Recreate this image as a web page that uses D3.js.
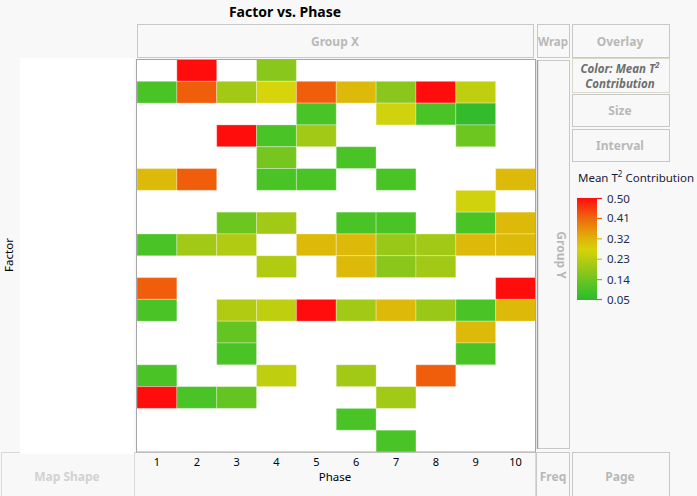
<!DOCTYPE html>
<html><head><meta charset="utf-8">
<script src="https://cdn.jsdelivr.net/npm/d3@7"></script>
<style>
html,body{margin:0;padding:0;background:#f8f8f8;}
svg{display:block;font-family:"Noto Sans","Open Sans",sans-serif;}
</style></head>
<body>
<svg id="chart" width="697" height="496"></svg>
<script>
const phases = ["1","2","3","4","5","6","7","8","9","10"];
const factors = ["F01","F02","F03","F04","F05","F06","F07","F08","F09","F10","F11","F12","F13","F14","F15","F16","F17","F18"];
// Mean T² Contribution per factor (row) and phase (column); null = no cell
const meanT2 = [
  [null,0.50,null,0.17,null,null,null,null,null,null],
  [0.10,0.42,0.20,0.27,0.42,0.31,0.17,0.50,0.24,null],
  [null,null,null,null,0.10,null,0.26,0.10,0.06,null],
  [null,null,0.50,0.10,0.20,null,null,null,0.14,null],
  [null,null,null,0.15,null,0.10,null,null,null,null],
  [0.31,0.42,null,0.10,0.10,null,0.10,null,null,0.31],
  [null,null,null,null,null,null,null,null,0.26,null],
  [null,null,0.14,0.20,null,0.10,0.10,null,0.10,0.31],
  [0.10,0.20,0.22,null,0.31,0.31,0.19,0.20,0.31,0.31],
  [null,null,null,0.22,null,0.31,0.17,0.20,null,null],
  [0.42,null,null,null,null,null,null,null,null,0.50],
  [0.10,null,0.22,0.24,0.50,0.20,0.31,0.19,0.10,0.31],
  [null,null,0.13,null,null,null,null,null,0.31,null],
  [null,null,0.10,null,null,null,null,null,0.10,null],
  [0.10,null,null,0.24,null,0.20,null,0.42,null,null],
  [0.50,0.10,0.13,null,null,null,0.20,null,null,null],
  [null,null,null,null,null,0.10,null,null,null,null],
  [null,null,null,null,null,null,0.10,null,null,null]
];
const legendTicks = [0.05,0.14,0.23,0.32,0.41,0.50];
const colorStops = [0.05,0.10,0.14,0.18,0.23,0.27,0.32,0.41,0.50];
const colorRange = ["#2db92d","#4ac326","#6dc520","#92c71a","#b8cc10","#d6d40a","#dfb40a","#ee680c","#ff0c0c"];

const svg = d3.select("#chart");
const color = d3.scaleLinear().domain(colorStops).range(colorRange).clamp(true);

// helper boxes
function box(x,y,w,h,stroke,fill){
  return svg.append("rect").attr("x",x+0.5).attr("y",y+0.5).attr("width",w).attr("height",h)
    .attr("fill",fill||"#f8f8f8").attr("stroke",stroke||"#c8c8c8");
}
function label(x,y,t,opts){
  opts=opts||{};
  const e = svg.append("text").attr("x",x).attr("y",y).attr("text-anchor",opts.anchor||"middle")
    .attr("font-size",opts.size||12).attr("font-weight",opts.weight||"bold")
    .attr("fill",opts.fill||"#b8b8b8").text(t);
  if(opts.italic) e.attr("font-style","italic");
  if(opts.rotate) e.attr("transform",`rotate(${opts.rotate},${x},${y})`);
  return e;
}

// Title
label(285,17,"Factor vs. Phase",{size:14,fill:"#000"});

// drop zones
box(137,24,396,33); label(335,46,"Group X");
box(537,24,32,33); label(553,46,"Wrap",{size:11.5});
box(572,24,97,33); label(620,46,"Overlay");
box(572,58,97,34,"#d9d9c9"); 
const ct = svg.append("text").attr("x",620).attr("y",73).attr("text-anchor","middle").attr("font-size",11.5)
  .attr("font-weight","bold").attr("font-style","italic").attr("fill","#6e6e6e");
ct.append("tspan").text("Color: Mean T");
ct.append("tspan").attr("font-size",8).attr("dy",-5).text("2");
svg.append("text").attr("x",620).attr("y",88).attr("text-anchor","middle").attr("font-size",11.5)
  .attr("font-weight","bold").attr("font-style","italic").attr("fill","#6e6e6e").text("Contribution");
box(572,94,97,32); label(620,115,"Size");
box(572,129,97,32); label(620,150,"Interval");
// Group Y
box(537,60,32,388);
svg.append("line").attr("x1",537.5).attr("x2",537.5).attr("y1",60).attr("y2",449).attr("stroke","#a0a0a0").attr("stroke-width",1.5);
label(557,255,"Group Y",{rotate:90});
// bottom zones
box(1,452,133,50,"#d8d8d8"); label(67,481,"Map Shape",{fill:"#d2d2d2"});
box(134,452,401,50,"#d8d8d8","#f8f8f8");
box(536,452,33,50); label(553,481,"Freq");
box(572,452,97,50); label(620,481,"Page");

// left white panel & axis title
svg.append("rect").attr("x",20).attr("y",58).attr("width",114).attr("height",396).attr("fill","#fff");
label(13,255,"Factor",{rotate:-90,weight:"normal",fill:"#000",size:11.5});

// plot
const x = d3.scaleBand().domain(phases).range([137,535.5]);
const y = d3.scaleBand().domain(factors).range([59.5,452]);
svg.append("rect").attr("x",x.range()[0]).attr("y",y.range()[0]).attr("width",x.range()[1]-x.range()[0])
  .attr("height",y.range()[1]-y.range()[0]).attr("fill","#fff");

const cells = [];
meanT2.forEach((row,i)=>row.forEach((v,j)=>{ if(v!=null) cells.push({f:factors[i],p:phases[j],v}); }));
svg.append("g").selectAll("rect").data(cells).join("rect")
  .attr("x",d=>x(d.p)).attr("y",d=>y(d.f)).attr("width",x.bandwidth()).attr("height",y.bandwidth())
  .attr("fill",d=>color(d.v)).attr("stroke","rgba(255,255,255,0.3)").attr("stroke-width",1);

svg.append("rect").attr("x",136.5).attr("y",59.5).attr("width",399).attr("height",392.5)
  .attr("fill","none").attr("stroke","#a6a6a6");

// x axis
const xa = svg.append("g").attr("transform","translate(0,452)").call(d3.axisBottom(x).tickSize(0).tickPadding(6));
xa.select(".domain").remove();
xa.selectAll("text").attr("font-size",11).attr("fill","#000").attr("font-family","Noto Sans, sans-serif");
label(335,481,"Phase",{weight:"normal",fill:"#000",size:11.5});

// legend
const lt = svg.append("text").attr("x",578).attr("y",182).attr("font-size",11.5).attr("fill","#1a1a3a");
lt.append("tspan").text("Mean T");
lt.append("tspan").attr("font-size",8).attr("dy",-5).text("2");
lt.append("tspan").attr("dy",5).text(" Contribution");

const defs = svg.append("defs");
const grad = defs.append("linearGradient").attr("id","lg").attr("x1",0).attr("y1",1).attr("x2",0).attr("y2",0);
d3.range(0,1.0001,0.05).forEach(t=>{
  grad.append("stop").attr("offset",t).attr("stop-color",color(0.05+t*0.45));
});
const ly = d3.scaleLinear().domain([0.05,0.5]).range([300,198]);
svg.append("rect").attr("x",577).attr("y",198).attr("width",20).attr("height",102).attr("fill","url(#lg)");
const lg = svg.append("g").selectAll("g").data(legendTicks).join("g")
  .attr("transform",d=>`translate(0,${Math.min(299.5,Math.max(198.5,ly(d)))})`);
lg.append("line").attr("x1",597).attr("x2",602).attr("stroke",d=>color(d)).attr("stroke-width",1.2);
lg.append("text").attr("x",607).attr("dy","0.35em").attr("font-size",11.5).attr("fill","#1f2a4a")
  .text(d=>d3.format(".2f")(d));
</script>
</body></html>
